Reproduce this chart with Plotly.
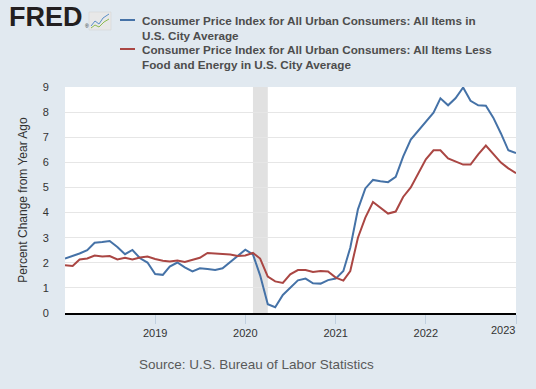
import plotly.graph_objects as go
import pandas as pd

months = pd.date_range("2018-01-01", "2023-01-01", freq="MS").strftime("%Y-%m-%d").tolist()

cpi_all = [
    2.17, 2.27, 2.37, 2.50, 2.80, 2.83, 2.87, 2.63, 2.34, 2.51, 2.18, 2.01,
    1.55, 1.52, 1.85, 2.01, 1.82, 1.66, 1.78, 1.75, 1.71, 1.78, 2.03, 2.30,
    2.52, 2.33, 1.50, 0.35, 0.23, 0.72, 1.01, 1.30, 1.37, 1.18, 1.17, 1.31,
    1.37, 1.67, 2.60, 4.13, 4.96, 5.30, 5.25, 5.21, 5.42, 6.23, 6.91, 7.25,
    7.61, 7.98, 8.55, 8.27, 8.55, 8.98, 8.45, 8.27, 8.25, 7.78, 7.15, 6.48,
    6.37,
]
cpi_core = [
    1.90, 1.87, 2.13, 2.17, 2.29, 2.25, 2.27, 2.13, 2.20, 2.13, 2.21, 2.25,
    2.15, 2.08, 2.05, 2.09, 2.03, 2.13, 2.20, 2.39, 2.37, 2.35, 2.33, 2.27,
    2.29, 2.39, 2.17, 1.45, 1.26, 1.20, 1.54, 1.71, 1.71, 1.63, 1.67, 1.65,
    1.41, 1.29, 1.67, 3.00, 3.80, 4.42, 4.20, 3.96, 4.04, 4.62, 5.00, 5.57,
    6.12, 6.48, 6.48, 6.16, 6.03, 5.91, 5.91, 6.32, 6.67, 6.32, 5.99, 5.76,
    5.57,
]

series_names = [
    "Consumer Price Index for All Urban Consumers: All Items in<br>U.S. City Average",
    "Consumer Price Index for All Urban Consumers: All Items Less<br>Food and Energy in U.S. City Average",
]
series_colors = ["#4572a7", "#aa4643"]

year_ticks = ["2019-01-01", "2020-01-01", "2021-01-01", "2022-01-01", "2023-01-01"]
year_labels = ["2019", "2020", "2021", "2022", "2023"]

recession = ("2020-02-01", "2020-04-01")

W, H = 536, 389
ML, MR, MT, MB = 65, 20, 87, 76
PW, PH = W - ML - MR, H - MT - MB

FONT = "Liberation Sans, Arial, sans-serif"

fig = go.Figure()
for vals, name, col in zip([cpi_all, cpi_core], series_names, series_colors):
    fig.add_trace(go.Scatter(x=months, y=vals, mode="lines", name=name,
                             line=dict(color=col, width=2), showlegend=False))

fig.add_vrect(x0=recession[0], x1=recession[1], fillcolor="#e1e1e1",
              line_width=0, layer="below")

def px_x(p):
    return (p - ML) / PW

def px_y(p):
    return (H - MB - p) / PH

# custom legend
leg_y = [20, 49]
for i, (name, col) in enumerate(zip(series_names, series_colors)):
    fig.add_shape(type="line", xref="paper", yref="paper",
                  x0=px_x(120), x1=px_x(135), y0=px_y(leg_y[i]), y1=px_y(leg_y[i]),
                  line=dict(color=col, width=2))
    fig.add_annotation(xref="paper", yref="paper", x=px_x(140), y=px_y(leg_y[i] - 8),
                       xanchor="left", yanchor="top", align="left", showarrow=False,
                       text="<b>" + name + "</b>",
                       font=dict(family=FONT, size=11.7, color="#4d4d4d"))

# FRED logo
fig.add_annotation(xref="paper", yref="paper", x=px_x(7), y=px_y(34),
                   xanchor="left", yanchor="bottom", showarrow=False,
                   text="<b>FRED</b>",
                   font=dict(family=FONT, size=27, color="#231f20"))
fig.add_annotation(xref="paper", yref="paper", x=px_x(83), y=px_y(31),
                   xanchor="left", yanchor="bottom", showarrow=False, text="®",
                   font=dict(family=FONT, size=5, color="#231f20"))
fig.add_shape(type="rect", xref="paper", yref="paper",
              x0=px_x(89), x1=px_x(111), y0=px_y(30), y1=px_y(12),
              fillcolor="#e8e8e8", line=dict(color="#d0d0d0", width=0.5))
fig.add_shape(type="path", xref="paper", yref="paper",
              path=f"M {px_x(91)},{px_y(26)} L {px_x(95)},{px_y(21)} L {px_x(99)},{px_y(24)} L {px_x(103)},{px_y(18)} L {px_x(109)},{px_y(14)}",
              line=dict(color="#5b8fc7", width=1))
fig.add_shape(type="path", xref="paper", yref="paper",
              path=f"M {px_x(91)},{px_y(28)} L {px_x(95)},{px_y(25)} L {px_x(99)},{px_y(27)} L {px_x(104)},{px_y(22)} L {px_x(109)},{px_y(19)}",
              line=dict(color="#8dbb4f", width=1))

# last year label kept inside the plot edge (right-aligned at its tick)
tick_text = year_labels[:-1] + [""]
fig.add_annotation(xref="x", yref="paper", x=year_ticks[-1], y=px_y(330),
                   xanchor="right", yanchor="middle", showarrow=False,
                   text=year_labels[-1], xshift=1,
                   font=dict(family=FONT, size=11, color="#333333"))

# source
fig.add_annotation(xref="paper", yref="paper", x=px_x(256), y=px_y(364),
                   xanchor="center", yanchor="middle", showarrow=False,
                   text="Source: U.S. Bureau of Labor Statistics",
                   font=dict(family=FONT, size=13.5, color="#595959"))

fig.update_layout(
    width=W, height=H,
    margin=dict(l=ML, r=MR, t=MT, b=MB, pad=0),
    paper_bgcolor="#e1e9f0",
    plot_bgcolor="#ffffff",
    font=dict(family=FONT, size=11, color="#595959"),
    xaxis=dict(
        range=[months[0], months[-1]],
        tickvals=year_ticks, ticktext=tick_text,
        showgrid=False, zeroline=False,
        showline=True, linecolor="#000000", linewidth=2,
        ticks="outside", ticklen=9, tickcolor="#c0d0e0", tickwidth=1,
        tickfont=dict(size=11, color="#333333"),
    ),
    yaxis=dict(
        range=[0, 9], dtick=1, tick0=0,
        showgrid=True, gridcolor="#e6e6e6", gridwidth=1,
        zeroline=False, showline=False,
        ticks="outside", ticklen=13, tickcolor="rgba(0,0,0,0)",
        tickfont=dict(size=11, color="#333333"),
        title=dict(text="Percent Change from Year Ago", standoff=12,
                   font=dict(size=12, color="#333333")),
    ),
)

fig.write_html("out.html", config={"displayModeBar": False},
               post_script="document.body.style.margin='0';")
